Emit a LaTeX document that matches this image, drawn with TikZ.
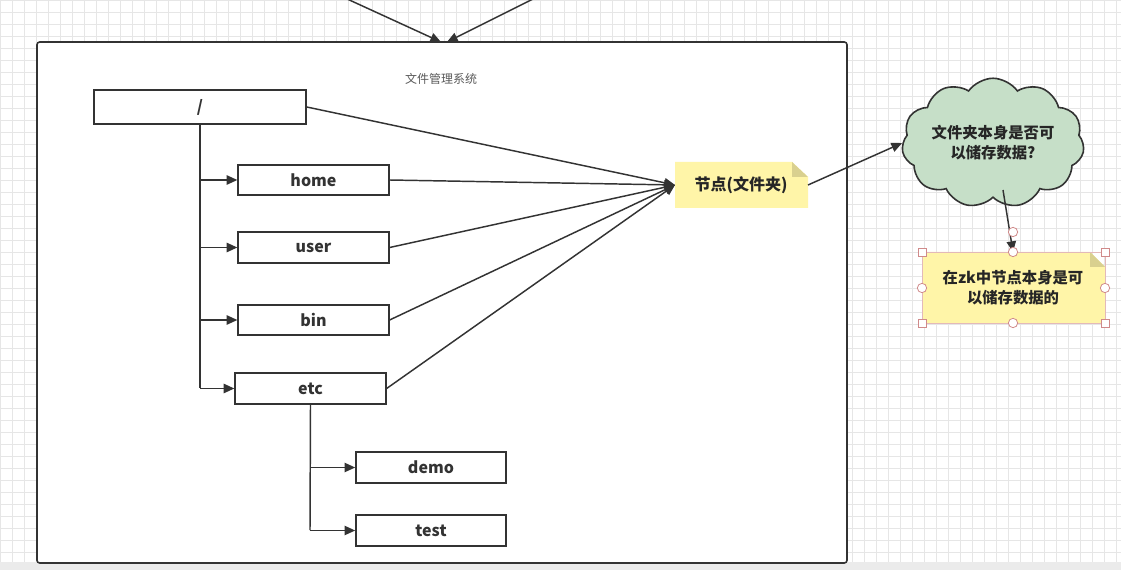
\documentclass[tikz,border=0pt]{standalone}
\usepackage{fontspec}
\setmainfont{Noto Sans CJK SC}
\usetikzlibrary{shapes.symbols,arrows.meta}
\definecolor{gridc}{HTML}{E6E6E6}
\definecolor{notey}{HTML}{FFF5A8}
\definecolor{cloudg}{HTML}{C6DFC8}
\definecolor{handle}{HTML}{D08A8A}
\tikzset{
  fbox/.style={draw=black!80,line width=1.2pt,minimum height=#1*0.75pt,font=\bfseries\fontsize{12}{14}\selectfont,text=black!80,inner sep=0pt},
  arr/.style={draw=black!80,line width=1.1pt,-{Triangle[length=8pt,width=7pt]}},
  ln/.style={draw=black!80,line width=1.1pt},
  hsq/.style={draw=handle,fill=white,line width=0.6pt,minimum size=6pt,inner sep=0pt},
  hci/.style={draw=handle,fill=white,circle,line width=0.6pt,minimum size=7pt,inner sep=0pt},
}
\begin{document}
\begin{tikzpicture}[x=0.75pt,y=-0.75pt]
\useasboundingbox (0,0) rectangle (1121,570);
\fill[white] (0,0) rectangle (1121,570);
\foreach \i in {0,12,...,1116}{\draw[gridc,line width=0.4pt] (\i,0) -- (\i,570);}
\foreach \j in {0,12,...,564}{\draw[gridc,line width=0.4pt] (0,\j) -- (1121,\j);}
\fill[black!8] (0,562) rectangle (1121,570);
% main box
\draw[black!80,line width=1.2pt,fill=white,rounded corners=2pt] (37,42) rectangle (847,563);
\node[font=\fontsize{9}{11}\selectfont,text=black!65] (title) at (441,79) {文件管理系统};
% top arrows
\coordinate (t1) at (345,-2); \coordinate (t2) at (535,-2);
\coordinate (b1) at (441,42); \coordinate (b2) at (447,42);
\draw[arr] (t1) -- (b1);
\draw[arr] (t2) -- (b2);
% boxes
\node[fbox=34,minimum width=159pt] (root) at (200,107) {/};
\node[fbox=30,minimum width=113pt] (home) at (313.5,180) {home};
\node[fbox=31,minimum width=113pt] (user) at (313.5,247.5) {user};
\node[fbox=30,minimum width=113pt] (bin) at (313.5,320) {bin};
\node[fbox=31,minimum width=113pt] (etc) at (310.5,388.5) {etc};
\node[fbox=31,minimum width=112.5pt] (demo) at (431,467.5) {demo};
\node[fbox=31,minimum width=112.5pt] (test) at (431,530.5) {test};
% tree
\draw[ln] (root.south) -- (200,388);
\foreach \n in {home,user,bin,etc}{\draw[arr] (200,0|-\n.west) -- (\n.west);}
\draw[ln] (etc.south) -- (310,530);
\foreach \n in {demo,test}{\draw[arr] (310,0|-\n.west) -- (\n.west);}
% note
\fill[notey] (675,162) -- (792,162) -- (808,177) -- (808,208) -- (675,208) -- cycle;
\fill[black!15!notey] (792,162) -- (808,177) -- (792,177) -- cycle;
\node[font=\bfseries\fontsize{12}{14}\selectfont,text=black!85] (node) at (741,185) {节点(文件夹)};
\coordinate (nl) at (675,185);
\foreach \n in {root,home,user,bin,etc}{\draw[arr] (\n.east) -- (nl);}
% cloud
\node[cloud,cloud puffs=11,cloud puff arc=110,aspect=1.6,draw=black!80,line width=1.2pt,fill=cloudg,minimum width=100pt,minimum height=62pt,inner sep=0pt,align=center,font=\bfseries\fontsize{11.5}{15}\selectfont,text=black!85] (cl) at (993,143) {文件夹本身是否可\\以储存数据?};
\draw[arr] (808,185) -- (cl.west);
% note2
\fill[notey] (922,252) -- (1090,252) -- (1105,267) -- (1105,323) -- (922,323) -- cycle;
\fill[black!15!notey] (1090,252) -- (1105,267) -- (1090,267) -- cycle;
\draw[handle!60,line width=0.5pt] (922,252) rectangle (1105,323);
\node[align=center,font=\bfseries\fontsize{11.5}{15}\selectfont,text=black!85] (n2) at (1013,288) {在zk中节点本身是可\\以储存数据的};
\coordinate (n2t) at (1013,252);
\draw[arr] (1003,190) -- (n2t);
\foreach \p in {(922,252),(1105,252),(922,323),(1105,323)}{\node[hsq] at \p {};}
\foreach \p in {(1013,252),(922,288),(1105,288),(1013,323),(1013,232)}{\node[hci] at \p {};}
\end{tikzpicture}
\end{document}
